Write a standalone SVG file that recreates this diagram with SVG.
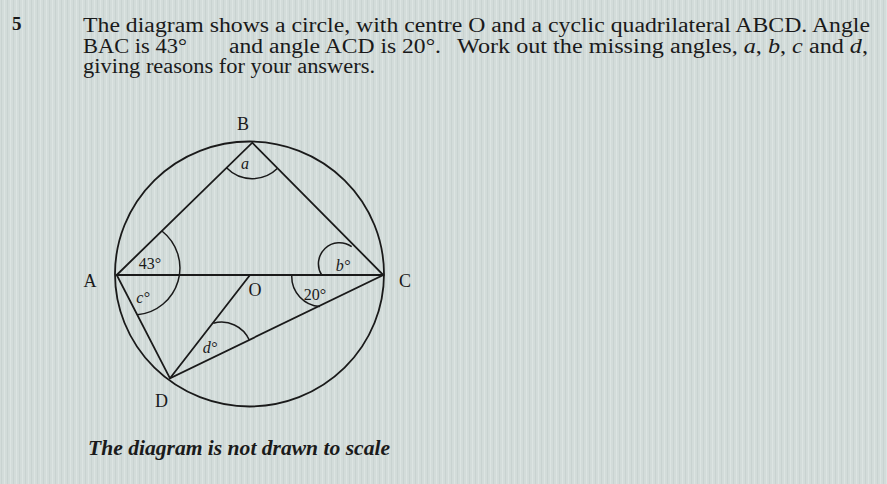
<svg xmlns="http://www.w3.org/2000/svg" width="887" height="484" viewBox="0 0 887 484">
<defs>
<pattern id="stripes" width="6" height="10" patternUnits="userSpaceOnUse">
<rect width="6" height="10" fill="#d3dcda"/>
<rect x="1" width="1" height="10" fill="#c9d3d1"/>
<rect x="4" width="1" height="10" fill="#dce4e2"/>
</pattern>
</defs>
<style>
.t{font-family:"Liberation Serif","Times New Roman",serif;fill:#1a1a1a}
.q{font-size:20px}
.lbl{font-size:18px;text-anchor:middle}
.ang{font-size:16px;text-anchor:middle}
.it{font-style:italic}
.ln{stroke:#1a1a1a;stroke-width:1.8;fill:none;stroke-linecap:round}
.arc{stroke:#1a1a1a;stroke-width:1.5;fill:none}
</style>
<rect width="887" height="484" fill="url(#stripes)"/>
<g id="question">
<text class="t" x="12" y="30" font-size="19" font-weight="bold">5</text>
<text class="t q" x="83" y="32" textLength="787" lengthAdjust="spacingAndGlyphs">The diagram shows a circle, with centre O and a cyclic quadrilateral ABCD. Angle</text>
<text class="t q" x="83" y="53" textLength="104" lengthAdjust="spacingAndGlyphs">BAC is 43°</text>
<text class="t q" x="229" y="53" textLength="212" lengthAdjust="spacingAndGlyphs">and angle ACD is 20°.</text>
<text class="t q" x="457" y="53" textLength="411" lengthAdjust="spacingAndGlyphs">Work out the missing angles, <tspan class="it">a</tspan>, <tspan class="it">b</tspan>, <tspan class="it">c</tspan> and <tspan class="it">d</tspan>,</text>
<text class="t q" x="83" y="73" textLength="292" lengthAdjust="spacingAndGlyphs">giving reasons for your answers.</text>
</g>
<g id="circle">
<ellipse class="ln" cx="249.5" cy="274" rx="134.5" ry="132.5"/>
</g>
<g id="connectors">
<polygon class="ln" points="116.7,275 252.3,142.7 383.3,275 170,378.3"/>
<line class="ln" x1="116.7" y1="275" x2="383.3" y2="275"/>
<line class="ln" x1="170" y1="378.3" x2="250" y2="275"/>
</g>
<g id="angle-a">
<path class="arc" d="M226.5,167.8 A36,36 0 0 0 277.6,168.3"/>
<text class="t ang it" x="245" y="169">a</text>
</g>
<g id="angle-43-c">
<path class="arc" d="M161.9,231 A47,47 0 0 1 137.3,314.8"/>
<text class="t ang" x="150" y="269">43°</text>
<text class="t ang it" x="143" y="303">c°</text>
</g>
<g id="angle-b">
<path class="arc" d="M321.7,275 A21,21 0 0 1 351.7,246.7"/>
<text class="t ang it" x="343" y="271">b°</text>
</g>
<g id="angle-20">
<path class="arc" d="M291.7,276 A30.2,30.2 0 0 0 320,306.5"/>
<text class="t ang" x="315" y="300">20°</text>
</g>
<g id="angle-d">
<path class="arc" d="M213.3,323.3 A30.4,30.4 0 0 1 249.3,340"/>
<text class="t ang it" x="210" y="353">d°</text>
</g>
<g id="labels">
<text class="t lbl" x="243" y="130">B</text>
<text class="t lbl" x="90" y="287">A</text>
<text class="t lbl" x="405" y="287">C</text>
<text class="t lbl" x="161.5" y="407">D</text>
<text class="t lbl" x="255" y="296">O</text>
</g>
<text class="t it" x="88" y="455" font-size="20" font-weight="bold" textLength="302" lengthAdjust="spacingAndGlyphs">The diagram is not drawn to scale</text>
</svg>
